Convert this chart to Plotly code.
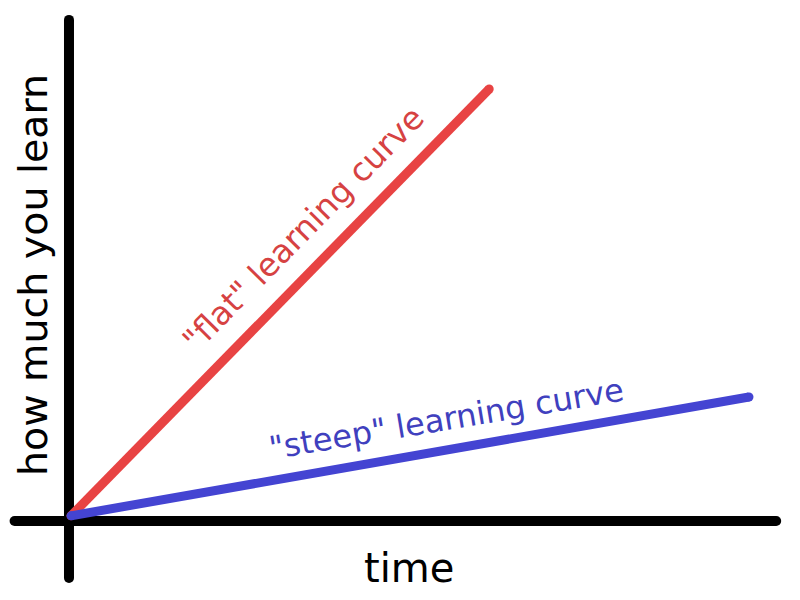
import plotly.graph_objects as go

# axis extents (time / how much you learn units)
axis_x = [-0.8, 10.4]
axis_y = [-1.32, 11.6]

# the two learning curves
flat_time = [0.03, 6.18]
flat_learn = [0.12, 10.0]
steep_time = [0.03, 10.0]
steep_learn = [0.12, 2.87]

labels = ['"flat" learning curve', '"steep" learning curve']

RED = "#E84343"
BLUE = "#4444D2"

fig = go.Figure()

# black axes (markers at the ends stand in for round line caps)
fig.add_trace(go.Scatter(x=axis_x, y=[0, 0], mode="lines+markers",
                         line=dict(color="black", width=10),
                         marker=dict(color="black", size=10), hoverinfo="skip"))
fig.add_trace(go.Scatter(x=[0, 0], y=axis_y, mode="lines+markers",
                         line=dict(color="black", width=10),
                         marker=dict(color="black", size=10), hoverinfo="skip"))

fig.add_trace(go.Scatter(x=flat_time, y=flat_learn, mode="lines+markers",
                         line=dict(color=RED, width=9), marker=dict(color=RED, size=9)))
fig.add_trace(go.Scatter(x=steep_time, y=steep_learn, mode="lines+markers",
                         line=dict(color=BLUE, width=9), marker=dict(color=BLUE, size=9)))

font = "DejaVu Sans, Verdana, sans-serif"

fig.add_annotation(x=3.45, y=6.75, text=labels[0], showarrow=False,
                   textangle=-45.5, font=dict(family=font, size=32.5, color="#D64242"))
fig.add_annotation(x=5.55, y=2.36, text=labels[1], showarrow=False,
                   textangle=-9.5, font=dict(family=font, size=32, color="#4040BE"))
fig.add_annotation(x=5.0, y=-1.08, text="time", showarrow=False,
                   font=dict(family=font, size=40, color="black"))
fig.add_annotation(x=-0.54, y=5.7, text="how much you learn", showarrow=False,
                   textangle=-90, font=dict(family=font, size=39.5, color="black"))

# page body adds an 8px margin, so the ranges are shifted to compensate
fig.update_layout(
    width=800, height=600,
    margin=dict(l=0, r=0, t=0, b=0),
    paper_bgcolor="white", plot_bgcolor="white",
    showlegend=False,
    xaxis=dict(range=[-0.897, 10.868], visible=False, fixedrange=True),
    yaxis=dict(range=[-2.014, 11.875], visible=False, fixedrange=True),
)

fig.write_html("out.html")
